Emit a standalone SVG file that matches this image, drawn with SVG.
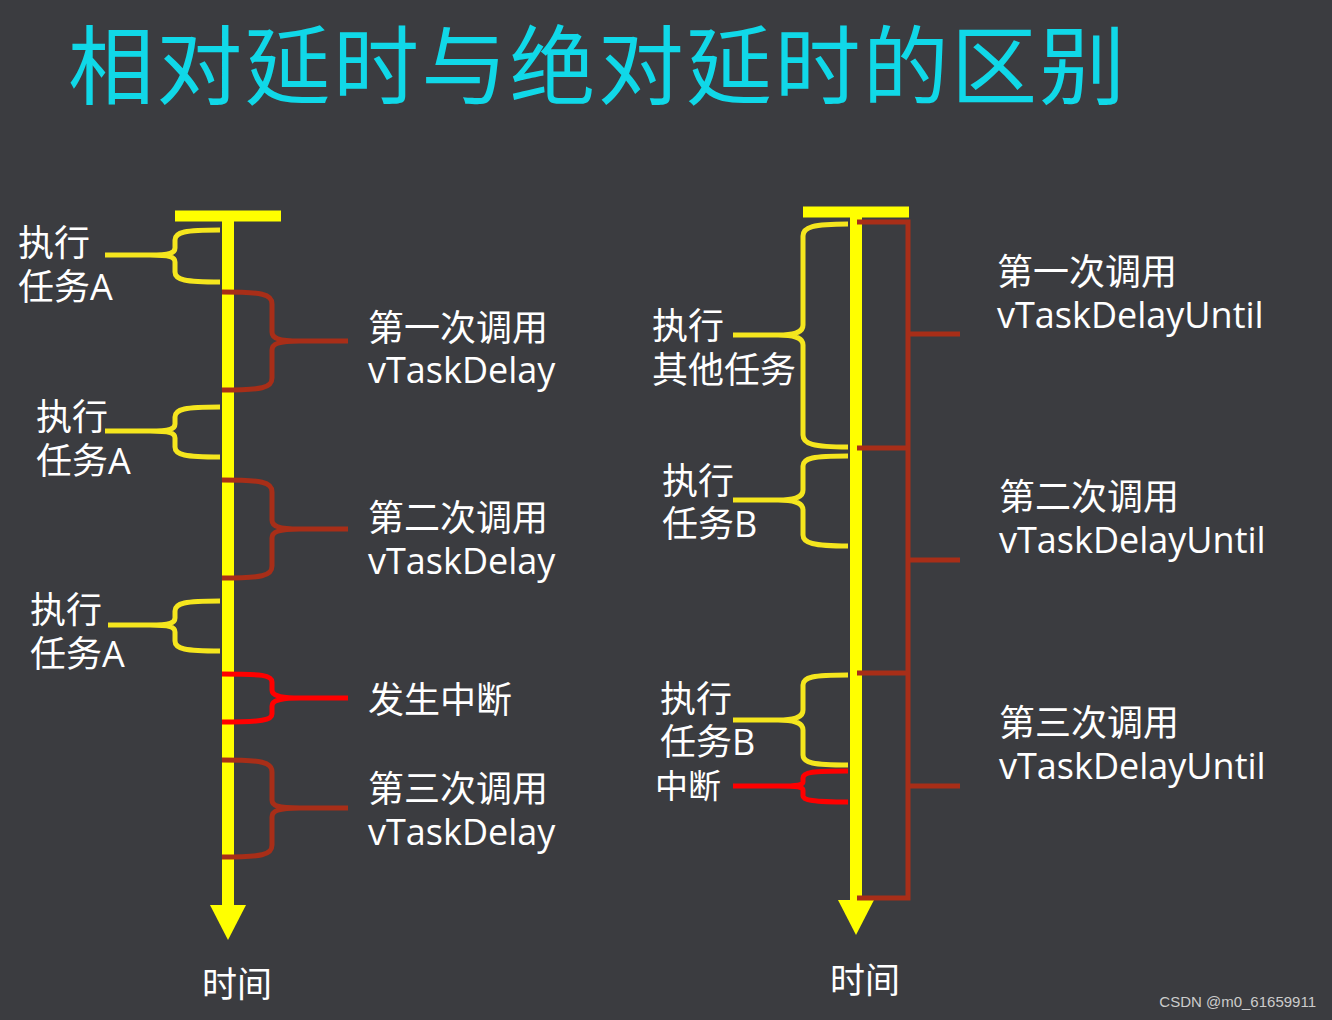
<svg xmlns="http://www.w3.org/2000/svg" width="1332" height="1020" viewBox="0 0 1332 1020">
<style>
text{font-family:"Open Sans","Noto Sans CJK SC",sans-serif;fill:#fff}
.l{font-size:36px}
.y{fill:none;stroke:#f5e61e;stroke-width:5}
.r{fill:none;stroke:#a82e18;stroke-width:5}
.i{fill:none;stroke:#ff0000;stroke-width:5}
.ax{stroke:#ffff00;stroke-width:12}
</style>
<rect width="1332" height="1020" fill="#3b3c40"/>
<text x="68" y="98" style="font-size:86px;fill:#10d8e8;letter-spacing:2.3px">相对延时与绝对延时的区别</text>
<g id="axis-left">
<line class="ax" x1="228" y1="216" x2="228" y2="910"/>
<line x1="175" y1="216" x2="281" y2="216" stroke="#ffff00" stroke-width="11"/>
<polygon points="210,905 246,905 228,940" fill="#ffff00"/>
<text x="237" y="997" text-anchor="middle" class="l" style="font-size:35px">时间</text>
</g>
<g id="axis-right">
<line class="ax" x1="856" y1="212" x2="856" y2="905"/>
<line x1="803" y1="212" x2="909" y2="212" stroke="#ffff00" stroke-width="11"/>
<polygon points="838,900 874,900 856,935" fill="#ffff00"/>
<text x="865" y="993" text-anchor="middle" class="l" style="font-size:35px">时间</text>
</g>
<g id="connectors">
<path class="y" d="M220,230 C185,230 175,232 175,240 V248 C175,253 170,255 150,255 H105 M150,255 C170,255 175,257 175,262 V272 C175,280 185,282 220,282"/>
<path class="y" d="M220,407 C185,407 175,409 175,417 V424 C175,429 170,431 150,431 H105 M150,431 C170,431 175,433 175,438 V447 C175,455 185,457 220,457"/>
<path class="y" d="M220,601 C185,601 175,603 175,611 V618 C175,623 170,625 150,625 H108 M150,625 C170,625 175,627 175,632 V641 C175,649 185,651 220,651"/>
<path class="r" d="M222,292 C262,292 272,294 272,304 V332 C272,338 278,341 300,341 H348 M300,341 C278,341 272,344 272,350 V378 C272,388 262,390 222,390"/>
<path class="r" d="M222,480 C262,480 272,482 272,492 V520 C272,526 278,529 300,529 H348 M300,529 C278,529 272,532 272,538 V566 C272,576 262,578 222,578"/>
<path class="i" d="M222,674 C262,674 272,675 272,682 V690 C272,695 278,698 300,698 H348 M300,698 C278,698 272,701 272,706 V714 C272,720 262,722 222,722"/>
<path class="r" d="M222,760 C262,760 272,762 272,772 V800 C272,806 278,808 300,808 H348 M300,808 C278,808 272,811 272,817 V845 C272,855 262,857 222,857"/>
<path class="y" d="M848,224 C813,224 803,227 803,236 V325 C803,331 798,335 778,335 H733 M778,335 C798,335 803,339 803,345 V435 C803,444 813,447 848,447"/>
<path class="y" d="M848,456 C813,456 803,458 803,466 V490 C803,496 798,500 778,500 H733 M778,500 C798,500 803,504 803,510 V535 C803,543 813,546 848,546"/>
<path class="y" d="M848,675 C813,675 803,677 803,685 V710 C803,716 798,720 778,720 H733 M778,720 C798,720 803,724 803,730 V755 C803,763 813,765 848,765"/>
<path class="i" d="M848,771 C813,771 803,772 803,778 V782 C803,785 798,786 778,786 H733 M778,786 C798,786 803,787 803,790 V796 C803,800 813,802 848,802"/>
<path class="r" d="M857,222 H908 V673 H857 M857,448 H908 M857,898 H908 V673 M908,334 H960 M908,560 H960 M908,786 H960"/>
</g>
<g id="labels-left">
<text class="l" x="18" y="256">执行</text><text class="l" x="18" y="300">任务A</text>
<text class="l" x="36" y="430">执行</text><text class="l" x="36" y="474">任务A</text>
<text class="l" x="30" y="623">执行</text><text class="l" x="30" y="667">任务A</text>
<text class="l" x="368" y="341">第一次调用</text><text class="l" x="368" y="383">vTaskDelay</text>
<text class="l" x="368" y="531">第二次调用</text><text class="l" x="368" y="574">vTaskDelay</text>
<text class="l" x="368" y="713">发生中断</text>
<text class="l" x="368" y="802">第三次调用</text><text class="l" x="368" y="845">vTaskDelay</text>
</g>
<g id="labels-right">
<text class="l" x="652" y="339">执行</text><text class="l" x="652" y="383">其他任务</text>
<text class="l" x="662" y="494">执行</text><text class="l" x="662" y="537">任务B</text>
<text class="l" x="660" y="712">执行</text><text class="l" x="660" y="755">任务B</text>
<text x="655" y="798" style="font-size:33px;font-family:'Noto Sans CJK SC',serif">中断</text>
<text class="l" x="997" y="285">第一次调用</text><text class="l" x="997" y="328">vTaskDelayUntil</text>
<text class="l" x="999" y="510">第二次调用</text><text class="l" x="999" y="553">vTaskDelayUntil</text>
<text class="l" x="999" y="736">第三次调用</text><text class="l" x="999" y="779">vTaskDelayUntil</text>
</g>
<text x="1316" y="1007" text-anchor="end" style="font-size:15px;fill:#ccc;font-family:'Liberation Sans',sans-serif">CSDN @m0_61659911</text>
</svg>
